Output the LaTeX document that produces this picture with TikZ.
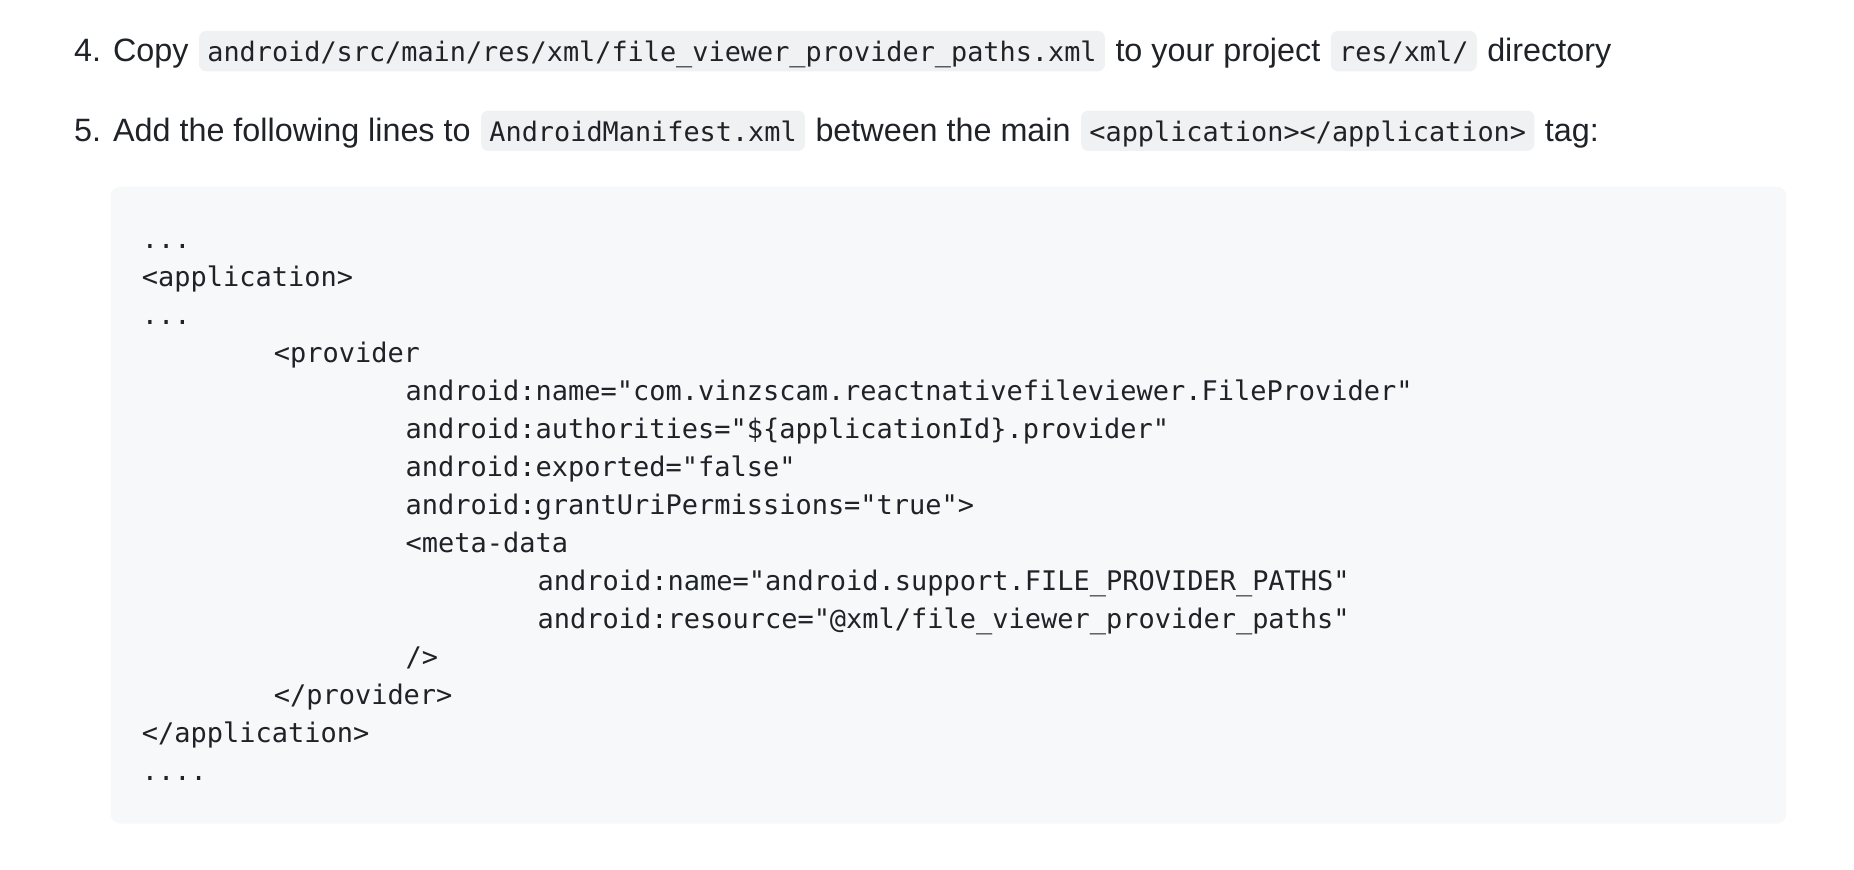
\documentclass[tikz,border=0pt]{standalone}
\usepackage{fontspec}
\setmainfont{Liberation Sans}
\setmonofont{DejaVu Sans Mono}
\usetikzlibrary{positioning}
\definecolor{codebg}{HTML}{F6F8FA}
\definecolor{inlinebg}{HTML}{EFF1F3}
\definecolor{ink}{HTML}{1F2328}

\begin{document}
\begin{tikzpicture}[
    x=0.5pt, y=-0.5pt,
    txt/.style={inner sep=0pt, anchor=base west, font=\fontsize{13.6}{16}\selectfont, text=ink},
    inl/.style={anchor=base west, fill=inlinebg, rounded corners=3pt, inner xsep=3.5pt, inner ysep=0pt,
      text depth=4pt, text height=13pt, font=\ttfamily\fontsize{11.3}{13}\selectfont, text=ink},
    cline/.style={inner sep=0pt, anchor=base west, font=\ttfamily\fontsize{11.35}{13}\selectfont, text=ink}
]
    \useasboundingbox (0,0) rectangle (1560,732);

    % Step 4
    \node[txt] (s4) at (62,52) {4. Copy};
    \node[inl, xshift=4] (p4a) at (s4.base east) {android/src/main/res/xml/file\_viewer\_provider\_paths.xml};
    \node[txt, xshift=4] (t4a) at (p4a.base east) {to your project};
    \node[inl, xshift=4] (p4b) at (t4a.base east) {res/xml/};
    \node[txt, xshift=4] (t4b) at (p4b.base east) {directory};

    % Step 5
    \node[txt] (s5) at (62,119) {5. Add the following lines to};
    \node[inl, xshift=4] (p5a) at (s5.base east) {AndroidManifest.xml};
    \node[txt, xshift=4] (t5a) at (p5a.base east) {between the main};
    \node[inl, xshift=4] (p5b) at (t5a.base east) {<application></application>};
    \node[txt, xshift=4] (t5b) at (p5b.base east) {tag:};

    % Code block
    \fill[codebg, rounded corners=4pt] (93,157) rectangle (1503,693);
    \node[cline] (c1) at (119,209) {...};
    \node[cline] (c2) at (119,241) {<application>};
    \node[cline] (c3) at (119,273) {...};
    \node[cline] (c4) at (230,305) {<provider};
    \node[cline] (c5) at (341,337) {android:name="com.vinzscam.reactnativefileviewer.FileProvider"};
    \node[cline] (c6) at (341,369) {android:authorities="\$\{applicationId\}.provider"};
    \node[cline] (c7) at (341,401) {android:exported="false"};
    \node[cline] (c8) at (341,433) {android:grantUriPermissions="true">};
    \node[cline] (c9) at (341,465) {<meta-data};
    \node[cline] (c10) at (452,497) {android:name="android.support.FILE\_PROVIDER\_PATHS"};
    \node[cline] (c11) at (452,529) {android:resource="@xml/file\_viewer\_provider\_paths"};
    \node[cline] (c12) at (341,561) {/>};
    \node[cline] (c13) at (230,593) {</provider>};
    \node[cline] (c14) at (119,625) {</application>};
    \node[cline] (c15) at (119,657) {....};
\end{tikzpicture}
\end{document}
